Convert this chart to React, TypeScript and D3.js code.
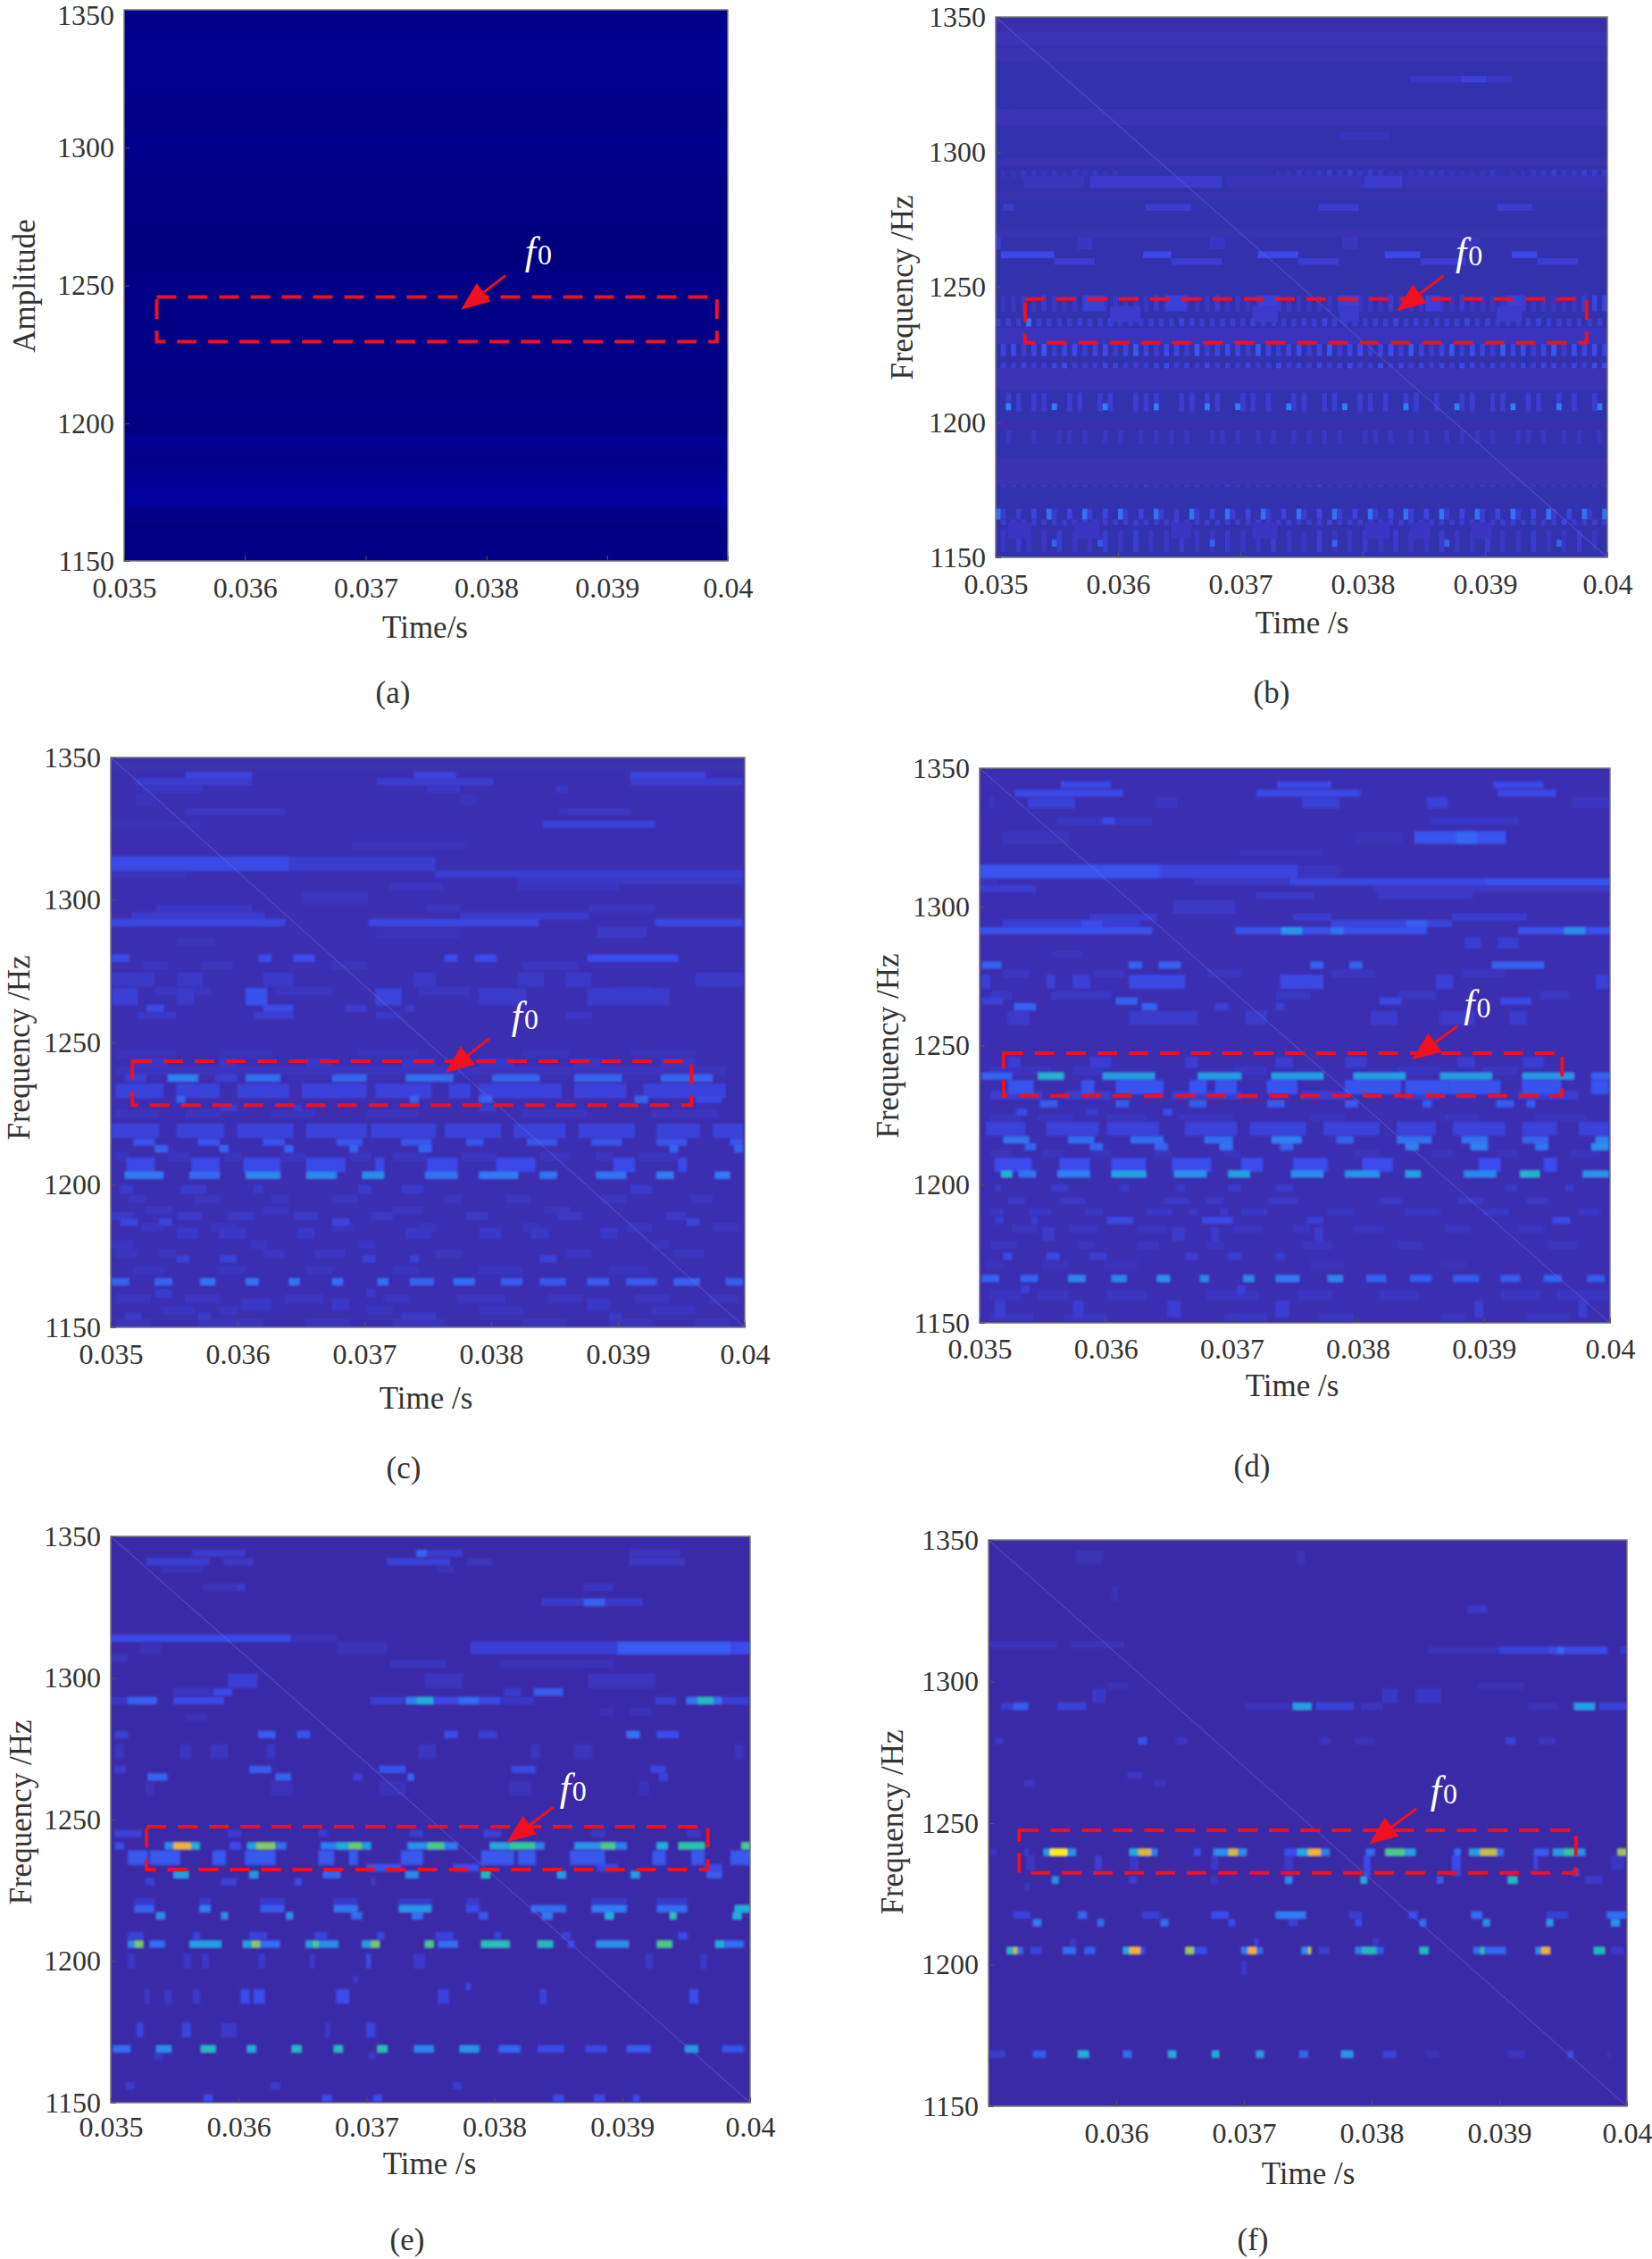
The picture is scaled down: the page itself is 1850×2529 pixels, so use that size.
import React, { useRef, useEffect } from 'react';
import * as d3 from 'd3';

// row: [freq Hz, height Hz, segments, value]
// with a value, segments are x0,x1 pairs; without one they are x0,x1,v triples
// segments are time bins, each list has its own bins at 0.035 and 0.04
type Row = [number, number, number[], number?];

const freqTicks = [1150, 1200, 1250, 1300, 1350];
const timeTicks = [0.035, 0.036, 0.037, 0.038, 0.039, 0.04];
const timeTicksNoFirst = [0.036, 0.037, 0.038, 0.039, 0.04];

// panel (a): one level per frequency band [high, low, level]
const aLevels = [
  [1350, 1342, 0.38], [1342, 1320, 0.45], [1320, 1315, 0.32], [1315, 1306, 0.26], [1306, 1298, 0.42],
  [1298, 1290, 0.3], [1290, 1283, 0.1], [1283, 1270, 0.15], [1270, 1257, 0.05], [1257, 1243, 0.2],
  [1243, 1225, 0.18], [1225, 1220, 0.25], [1220, 1213, 0.08], [1213, 1204, 0.18], [1204, 1196, 0.1],
  [1196, 1190, 0.5], [1190, 1183, 0.35], [1183, 1176, 0.55], [1176, 1170, 0.85], [1170, 1163, 0.3],
  [1163, 1155, 0.12], [1155, 1150, 0.28],
];

const bBins = [275, 1478];
const bRows: Row[] = [
  [1347, 5, [275, 1478], 0.015],
  [1342, 5, [275, 1478], 0.04],
  [1336, 5, [275, 1478], 0.03],
  [1327, 2.5, [1090, 1290], 0.08],
  [1327, 2.5, [1190, 1240], 0.14],
  [1313, 6, [275, 1478], 0.04],
  [1306, 3, [950, 1050], 0.06],
  [1296, 3, [280, 1478], 0.03],
  [1289, 4.5, [330, 450, 0.07, 460, 720, 0.11, 730, 1000, 0.06, 1000, 1075, 0.11, 1080, 1478, 0.06]],
  [1284, 3, [275, 1478], 0.03],
  [1279.5, 2.5, [290, 310, 570, 660, 910, 990, 1260, 1330], 0.11],
  [1270, 3, [280, 1478], 0.03],
  [1262, 2.5, [285, 390, 565, 620, 790, 870, 1040, 1110, 1290, 1340], 0.18],
  [1259.5, 2.5, [390, 470, 620, 720, 870, 950, 1110, 1200, 1340, 1420], 0.12],
  [1244, 6, [450, 490, 610, 650, 790, 830, 950, 990, 1120, 1150, 1280, 1310], 0.14],
  [1240, 6, [500, 560, 780, 830, 950, 990, 1260, 1310], 0.11],
  [1232, 6, [275, 1478], 0.07],
  [1216, 8, [275, 1478], 0.04],
  [1199, 3, [275, 1478], 0.02],
  [1186, 2, [275, 1478], 0.03],
  [1182, 6, [340, 380, 530, 560, 715, 750, 905, 945, 1095, 1125, 1290, 1310], 0.11],
  [1181, 8, [275, 1478], 0.03],
  [1160, 6, [300, 345, 430, 480, 620, 660, 780, 830, 1000, 1050, 1090, 1130, 1210, 1250], 0.08],
];

// panel (b) is fine stripes, one digit per column, digit 0-9 is the level x 0.04
const bStripes: [number, number, string][] = [
  [1344.5, 1339.5, '0000000000 0000002020 2020202000 0000000000 0000000000 0000020202 0202020202 0202000000 0000000000 0000000020 2020202020 2020202020'],
  [1316, 1310, '0203020202 0201020202 0202010202 0201020202 0202020102 0202020201 0202020202 0102020202 0201020202 0202010202 0202020102 0202020202'],
  [1293.5, 1290.5, '0101020201 0201020102 0101000000 0000000000 0000000000 0000010102 0102030203 0203020101 0102020201 0101010200 0101020203 0202030303'],
  [1270, 1264, '3000000000 0000002220 0000000000 0000000000 0022200000 0000000000 0000000022 2000000000 0000000000 0022200000 0000000000 0000000000'],
  [1247, 1241, '0202020203 0202020302 0202020202 0302020202 0203020202 0202030202 0202020203 0202020302 0202020202 0302020202 0203020202 0202030404'],
  [1238.5, 1235.5, '3030308030 3030303030 3040303030 3030304030 3030303030 4030303030 3030403030 3030303040 3030303030 3040303030 3030304030 3030303030'],
  [1234.5, 1231.5, '0303030303 0403030303 0303030403 0303030303 0403030303 0303030403 0303030303 0403030303 0303040303 0303030403 0303030303 0403030404'],
  [1231, 1224.5, '0405030406 0304050304 0503040604 0305040306 0304050403 0604030405 0304060304 0503040503 0604030406 0305040306 0405030406 0305040504'],
  [1222, 1212.5, '0303040303 0405030303 0404030303 0405030403 0403040304 0303050304 0304030405 0303050304 0304030403 0504030403 0304030404 0304030505'],
  [1211, 1204, '0030300303 0000303000 3030000303 0300003030 0303000030 3003000030 3000303000 0303003000 3030003000 0303000303 0000303000 3003000300'],
  [1207, 1204.5, '0090000000 0900000000 0900000000 0900000000 0900000900 0000000900 0000000090 0000000000 9000000000 9000000000 0900000000 9000000090'],
  [1197, 1192, '0020000200 0020200200 0200200020 0200200200 0020200200 0200200020 0200200200 0020200200 0200200020 0200200200 0020200200 0200200020'],
  [1183, 1176, '0202020202 0202020202 0202020203 0202020202 0202030202 0202020202 0203020202 0202020202 0202020202 0202020202 0202020202 0202020202'],
  [1168, 1164, '8300300400 8300400830 0400830040 0830030083 0040083004 0083004008 3004008300 4008300400 8300400830 0400830040 0830040083 0040083008'],
  [1164, 1162, '0303030303 0303030403 0303030303 0303040303 0303030303 0403030303 0303040303 0303030303 0403030303 0303040303 0303030303 0403030303'],
  [1160, 1152, '0200302002 0030020020 0300200300 2002003002 0020030020 0200300200 2003002002 0030020030 0200200300 2002003002 0020030020 0200300200'],
  [1156.5, 1154, '0000000000 0700000000 6000000000 0000000000 0070000000 0000000000 0000007000 0000000000 0000000070 0000000000 0000000000 7000000000'],
];

const cTopBins = [20, 1545];
const cTop: Row[] = [
  [1347, 3, [20, 1545], 0.03],
  [1343.7, 2.5, [200, 360, 750, 850, 1270, 1450], 0.16],
  [1341.5, 2.5, [80, 360, 660, 940, 1270, 1540], 0.12],
  [1339, 2.5, [100, 240, 780, 860, 1090, 1120], 0.1],
  [1335, 4, [80, 130, 860, 900], 0.06],
  [1331, 2.5, [200, 440, 1100, 1270], 0.08],
  [1326.5, 2.5, [20, 230], 0.05],
  [1326.5, 2.5, [1060, 1330], 0.15],
  [1319, 3, [600, 880], 0.05],
  [1312.7, 5, [20, 450], 0.18],
  [1312.7, 5, [450, 800], 0.12],
  [1309, 2.5, [20, 200], 0.07],
  [1309, 2.5, [800, 1540], 0.13],
  [1306.7, 2.5, [1000, 1540], 0.09],
  [1304.7, 2.5, [690, 820, 1000, 1240], 0.08],
  [1300.6, 4, [480, 640], 0.08],
  [1297, 2.5, [130, 360], 0.1],
  [1297, 2.5, [780, 860, 1170, 1330], 0.08],
  [1294.3, 2.5, [70, 390, 860, 1170], 0.12],
  [1292, 2.5, [20, 440, 640, 1050, 1330, 1540], 0.17],
  [1288.6, 4, [660, 860], 0.05],
  [1288.6, 4, [1190, 1310], 0.09],
  [1285, 2.5, [180, 270], 0.07],
];
const cBins = [48, 1514];
const cNoise: Row[] = [
  [1277, 3, [120, 180, 260, 330, 560, 640, 1000, 1130], 0.07],
  [1268, 3, [150, 280, 430, 560, 760, 880, 1200, 1300], 0.08],
  [1246, 3, [60, 200, 300, 420, 620, 760, 1000, 1110, 1250, 1400], 0.06],
  [1225, 3, [60, 160, 220, 300, 420, 520, 640, 760, 1000, 1150, 1300, 1450], 0.08],
  [1210, 3, [60, 90, 180, 230, 310, 350, 440, 500, 600, 650, 700, 780, 860, 940, 1040, 1110, 1170, 1210, 1270, 1360], 0.08],
  [1195, 3, [90, 130, 240, 300, 420, 460, 560, 620, 820, 860, 960, 1020, 1180, 1240, 1390, 1440], 0.08],
  [1189, 3, [50, 100, 200, 260, 320, 380, 470, 530, 650, 700, 870, 920, 1080, 1140, 1330, 1380], 0.09],
  [1185, 3, [120, 170, 280, 340, 560, 610, 760, 800, 1000, 1040, 1240, 1300, 1440, 1500], 0.08],
  [1176, 3, [60, 110, 160, 200, 400, 450, 520, 590, 800, 860, 1100, 1160, 1350, 1420], 0.08],
  [1170, 3, [100, 170, 300, 360, 500, 560, 700, 760, 900, 1000, 1200, 1290], 0.07],
  [1160, 3, [60, 140, 220, 300, 450, 540, 680, 740, 850, 960, 1060, 1140, 1260, 1340, 1430, 1500], 0.08],
  [1156, 3, [170, 240, 300, 340, 640, 700, 900, 1000, 1300, 1400], 0.08],
  [1151.5, 3, [60, 140, 250, 400, 500, 600, 700, 820, 1000, 1100, 1200, 1300, 1400, 1480], 0.07],
];
const cMid: Row[] = [
  [1279.6, 2.5, [50, 90, 390, 420, 470, 520, 820, 850, 890, 940, 1150, 1360], 0.2],
  [1272, 5, [50, 150, 200, 260, 400, 470, 750, 800, 990, 1050, 1100, 1160, 1400, 1510], 0.1],
  [1266, 6, [50, 110, 0.14, 200, 240, 0.11, 360, 410, 0.22, 660, 720, 0.16, 900, 1010, 0.11, 1150, 1340, 0.11]],
  [1262, 2.5, [130, 170, 0.18, 400, 470, 0.18, 590, 640, 0.11, 730, 750, 0.11]],
  [1259.5, 2.5, [110, 200, 0.09, 380, 470, 0.13, 660, 720, 0.09, 1100, 1160, 0.08]],
  [1243, 3, [100, 180, 300, 340, 500, 560, 720, 800, 900, 980, 1120, 1180, 1320, 1400], 0.1],
  [1240, 3, [60, 1470], 0.07],
  [1237.5, 2.5, [180, 250, 0.36, 360, 440, 0.3, 560, 640, 0.27, 730, 840, 0.3, 930, 1040, 0.27, 1120, 1230, 0.27, 1320, 1440, 0.27, 80, 130, 0.14, 290, 340, 0.14]],
  [1233, 5, [60, 170, 200, 300, 340, 460, 490, 640, 660, 790, 830, 880, 900, 1090, 1120, 1240, 1280, 1470], 0.15],
  [1230, 2.5, [200, 220, 740, 760, 900, 930, 1260, 1290], 0.27],
  [1230, 2.5, [1400, 1460], 0.18],
  [1227, 2.5, [300, 340, 470, 490, 900, 940], 0.12],
  [1219, 5, [50, 160, 200, 310, 340, 470, 500, 640, 650, 800, 820, 950, 980, 1100, 1130, 1260, 1310, 1410, 1440, 1510], 0.15],
  [1215, 2.5, [100, 150, 250, 300, 400, 450, 570, 630, 720, 790, 870, 910, 1010, 1080, 1160, 1230, 1310, 1380, 1480, 1510], 0.22],
  [1212.7, 2.5, [150, 180, 300, 320, 450, 470, 600, 620, 760, 790, 1340, 1360, 1490, 1510], 0.27],
  [1207, 5, [85, 150, 235, 300, 355, 440, 500, 590, 660, 680, 780, 850, 940, 1030, 1210, 1260, 1360, 1380], 0.19],
  [1203.4, 2.5, [80, 170, 0.34, 230, 300, 0.29, 360, 440, 0.38, 500, 570, 0.38, 630, 680, 0.4, 775, 850, 0.32, 900, 990, 0.34, 1040, 1080, 0.32, 1170, 1240, 0.32, 1310, 1350, 0.34, 1445, 1480, 0.34]],
  [1198.5, 3, [70, 100, 210, 270, 380, 400, 620, 650, 720, 770, 1250, 1300], 0.11],
  [1191, 3, [130, 190, 400, 460, 700, 770, 1050, 1110], 0.08],
  [1187, 2.5, [70, 110, 160, 190, 560, 600, 1380, 1410], 0.16],
  [1183, 4, [200, 250, 300, 360, 480, 520, 730, 790, 900, 950, 1020, 1060, 1180, 1220], 0.1],
  [1179, 3, [50, 100, 370, 410, 620, 660, 1300, 1340], 0.08],
  [1174, 2.5, [200, 230, 300, 340, 630, 660, 740, 760, 1040, 1080], 0.15],
  [1166, 2.5, [50, 90, 0.27, 150, 190, 0.27, 255, 290, 0.32, 360, 390, 0.32, 460, 485, 0.32, 560, 585, 0.3, 665, 690, 0.3, 740, 795, 0.27, 840, 890, 0.3, 950, 1000, 0.25, 1040, 1100, 0.23, 1150, 1200, 0.25, 1240, 1310, 0.25, 1350, 1410, 0.27, 1470, 1510, 0.25]],
  [1162, 3, [150, 190, 640, 660], 0.11],
  [1158, 4, [350, 420, 560, 600, 1150, 1200], 0.1],
  [1154, 2.5, [80, 120, 250, 280, 720, 800, 1200, 1230], 0.11],
];

const dTopBins = [15, 1530];
const dTop: Row[] = [
  [1344, 2.5, [210, 330, 730, 860, 1250, 1370], 0.18],
  [1341, 2.5, [100, 360, 680, 930, 1260, 1400], 0.18],
  [1337.5, 4, [40, 50, 440, 490, 1440, 1530], 0.08],
  [1337.5, 4, [130, 245, 790, 880, 1090, 1140], 0.14],
  [1331, 2.5, [200, 430, 0.09, 310, 340, 0.18, 1100, 1310, 0.1]],
  [1325, 4.5, [70, 230, 0.07, 920, 1030, 0.06, 1060, 1280, 0.22, 1160, 1210, 0.28]],
  [1319.5, 2.5, [640, 840], 0.06],
  [1312.7, 5, [15, 450], 0.22],
  [1312.7, 5, [450, 780], 0.16],
  [1312.7, 5, [780, 880], 0.07],
  [1309, 2.5, [15, 60, 0.07, 530, 760, 0.09, 760, 1230, 0.17, 1230, 1530, 0.22]],
  [1306.5, 2.5, [15, 150, 0.12, 960, 1530, 0.09]],
  [1304, 2.5, [680, 820, 0.1, 970, 1200, 0.09]],
  [1300, 5, [480, 630], 0.09],
  [1296.3, 2.5, [280, 440, 770, 860, 1150, 1330], 0.12],
  [1294, 2.5, [70, 400, 0.13, 260, 310, 0.2, 860, 1150, 0.16, 1040, 1090, 0.26]],
  [1291.4, 2.5, [15, 430, 0.22, 630, 1090, 0.22, 740, 790, 0.42, 860, 890, 0.32, 1310, 1530, 0.22, 1420, 1470, 0.4]],
  [1287, 4, [1180, 1220, 1260, 1310], 0.12],
  [1283, 2.5, [190, 260], 0.07],
];
const dBins = [35, 1493];
const dNoise: Row[] = [
  [1276, 3, [90, 150, 300, 370, 560, 640, 850, 950, 1150, 1250], 0.08],
  [1268, 3, [60, 110, 200, 340, 720, 800, 1000, 1090, 1330, 1400], 0.09],
  [1241, 3, [60, 200, 250, 320, 620, 700, 1000, 1100, 1200, 1280], 0.08],
  [1232, 3, [60, 180, 230, 340, 480, 640, 780, 880, 1020, 1100, 1280, 1420], 0.12],
  [1224, 2.5, [60, 130, 170, 250, 330, 420, 500, 620, 800, 880, 1110, 1190, 1320, 1440], 0.08],
  [1211, 2.5, [60, 110, 180, 230, 300, 340, 440, 480, 600, 640, 900, 960, 1080, 1130, 1230, 1280, 1400, 1470], 0.07],
  [1194, 2.5, [100, 140, 220, 280, 460, 520, 560, 600, 700, 770, 960, 1010, 1140, 1200, 1300, 1350], 0.09],
  [1190, 2.5, [60, 90, 150, 200, 280, 320, 420, 480, 640, 700, 840, 900, 1020, 1100, 1200, 1260, 1420, 1470], 0.1],
  [1184, 3, [110, 170, 240, 310, 400, 470, 620, 690, 760, 800, 900, 970, 1110, 1170, 1280, 1340], 0.08],
  [1178, 3, [60, 120, 260, 300, 400, 450, 560, 600, 780, 850, 1000, 1060, 1350, 1420], 0.07],
  [1171, 3, [50, 90, 180, 240, 320, 400, 800, 880, 1100, 1160], 0.06],
  [1160, 4, [60, 130, 170, 240, 330, 420, 560, 680, 770, 850, 960, 1050, 1240, 1330, 1370, 1490], 0.08],
  [1152, 3, [60, 160, 230, 330, 600, 700, 820, 900, 1100, 1160, 1300, 1400], 0.08],
];
const dMid: Row[] = [
  [1279, 2.5, [40, 85, 380, 410, 450, 500, 800, 830, 890, 920, 1220, 1340], 0.27],
  [1273, 5, [40, 60, 190, 210, 250, 290, 1090, 1130, 1460, 1490], 0.14],
  [1273, 5, [380, 510, 730, 830], 0.18],
  [1266, 2.5, [40, 90, 0.14, 350, 400, 0.27, 960, 1010, 0.18, 1240, 1310, 0.18]],
  [1264, 2.5, [115, 165, 410, 445], 0.27],
  [1264, 2.5, [580, 610, 720, 740], 0.14],
  [1260, 5, [100, 150, 380, 540, 650, 700, 940, 1000, 1100, 1180, 1260, 1300], 0.11],
  [1244, 4, [100, 130, 290, 340, 510, 540, 720, 760, 880, 930, 1140, 1180, 1290, 1340], 0.13],
  [1239, 2.5, [40, 110, 0.27, 170, 230, 0.52, 320, 440, 0.45, 540, 640, 0.45, 710, 830, 0.45, 900, 1020, 0.45, 1100, 1220, 0.45, 1290, 1410, 0.43, 1450, 1493, 0.27]],
  [1235, 5, [100, 160, 270, 300, 350, 460, 520, 560, 580, 630, 700, 770, 880, 1010, 1020, 1120, 1120, 1240, 1290, 1380, 1450, 1490], 0.22],
  [1229, 2.5, [175, 215, 350, 380, 520, 560, 700, 740, 880, 910, 1060, 1080, 1230, 1270, 1300, 1320], 0.25],
  [1226, 2.5, [120, 145, 0.18, 280, 310, 0.11, 460, 480, 0.18]],
  [1220, 5, [50, 140, 190, 310, 330, 450, 510, 630, 660, 790, 830, 960, 1000, 1090, 1130, 1250, 1290, 1370, 1420, 1490], 0.15],
  [1216, 2.5, [90, 150, 0.32, 240, 300, 0.3, 385, 460, 0.3, 555, 620, 0.3, 710, 780, 0.36, 860, 900, 0.27, 1000, 1080, 0.32, 1150, 1210, 0.32, 1290, 1350, 0.27, 1460, 1490, 0.36]],
  [1213.5, 2.5, [140, 165, 0.27, 290, 320, 0.27, 440, 470, 0.27, 590, 620, 0.32, 730, 760, 0.27, 1020, 1050, 0.36, 1170, 1210, 0.36, 1320, 1350, 0.32, 1450, 1490, 0.4]],
  [1207, 5, [70, 155, 220, 290, 340, 420, 480, 570, 640, 690, 760, 840, 920, 990, 1190, 1240, 1340, 1370], 0.2],
  [1203.7, 2.5, [85, 110, 0.52, 125, 165, 0.32, 215, 290, 0.36, 340, 420, 0.46, 485, 560, 0.41, 610, 660, 0.46, 755, 830, 0.39, 880, 960, 0.41, 1020, 1055, 0.46, 1155, 1230, 0.38, 1285, 1330, 0.52, 1430, 1490, 0.41]],
  [1198.6, 2.5, [70, 85, 200, 240, 360, 380, 490, 510, 610, 640, 720, 760, 1250, 1280, 1390, 1410], 0.11],
  [1190, 2.5, [520, 540, 590, 610, 840, 860], 0.1],
  [1187, 2.5, [70, 90, 155, 170, 790, 830], 0.13],
  [1187, 2.5, [330, 390, 550, 620, 1360, 1400], 0.18],
  [1182, 5, [180, 210, 480, 510, 570, 590, 810, 830], 0.11],
  [1174, 2.5, [90, 110, 190, 220], 0.18],
  [1174, 2.5, [290, 330, 510, 540, 610, 640, 720, 740], 0.13],
  [1166, 2.5, [40, 80, 0.27, 130, 170, 0.27, 240, 280, 0.38, 340, 375, 0.38, 445, 475, 0.41, 545, 565, 0.38, 645, 670, 0.38, 720, 775, 0.34, 840, 875, 0.38, 930, 975, 0.27, 1030, 1080, 0.25, 1130, 1190, 0.25, 1240, 1285, 0.25, 1340, 1380, 0.27, 1440, 1480, 0.25]],
  [1162, 3, [130, 150, 630, 650], 0.14],
  [1155, 6, [70, 95, 250, 275, 470, 500, 720, 750, 1180, 1200, 1420, 1440], 0.13],
];

const eTopBins = [20, 1547];
const eTop: Row[] = [
  [1344, 2.5, [215, 340, 0.11, 750, 775, 0.27, 775, 860, 0.11, 1260, 1380, 0.07]],
  [1341, 2.5, [105, 255, 0.13, 290, 360, 0.09, 680, 830, 0.14, 870, 930, 0.07, 1260, 1390, 0.09]],
  [1338.5, 2.5, [140, 240, 800, 840], 0.05],
  [1332, 2.5, [240, 320, 0.05, 320, 340, 0.11, 1150, 1220, 0.07]],
  [1326.7, 2.5, [1050, 1290, 0.11, 1150, 1200, 0.27]],
  [1314, 2.5, [20, 450, 0.18, 450, 560, 0.05]],
  [1310.6, 4.5, [90, 140, 0.05, 560, 680, 0.05, 880, 1230, 0.13, 1230, 1500, 0.25, 1500, 1547, 0.18]],
  [1307, 2.5, [20, 60], 0.07],
  [1305, 2.5, [690, 820, 0.07, 950, 1220, 0.06]],
  [1299, 5, [300, 370, 0.13, 770, 860, 0.07, 1160, 1320, 0.07]],
  [1295, 2.5, [170, 260, 0.07, 265, 310, 0.18, 960, 1000, 0.11, 1030, 1100, 0.25]],
  [1292, 2.5, [20, 60, 0.09, 60, 130, 0.27, 170, 290, 0.18, 640, 720, 0.13, 725, 750, 0.36, 750, 790, 0.5, 790, 850, 0.18, 850, 900, 0.3, 900, 950, 0.18, 950, 1030, 0.09, 1320, 1370, 0.13, 1395, 1420, 0.32, 1420, 1460, 0.55, 1460, 1480, 0.32, 1480, 1547, 0.13]],
  [1288, 2.5, [1190, 1220, 1260, 1310], 0.06],
  [1286, 2.5, [200, 250], 0.05],
];
const eBins = [30, 1505];
const eMid: Row[] = [
  [1280, 2.5, [40, 70, 0.14, 370, 410, 0.25, 460, 490, 0.22, 800, 830, 0.2, 880, 920, 0.14, 1220, 1250, 0.32, 1290, 1340, 0.2]],
  [1274, 5, [40, 60, 190, 215, 260, 300, 390, 410, 740, 780, 1000, 1020, 1100, 1140, 1470, 1490], 0.07],
  [1267.7, 2.5, [40, 65, 0.11, 350, 400, 0.25, 650, 710, 0.22, 955, 1010, 0.18, 1275, 1310, 0.16]],
  [1265, 2.5, [115, 160, 0.27, 410, 445, 0.27, 590, 610, 0.14, 715, 730, 0.27, 1295, 1315, 0.14]],
  [1261, 5, [110, 130, 400, 450, 650, 710, 950, 1000, 1250, 1270], 0.06],
  [1245, 2.5, [40, 100, 0.14, 300, 330, 0.11, 510, 530, 0.11, 720, 750, 0.11, 890, 930, 0.14, 1140, 1170, 0.09, 1360, 1390, 0.09]],
  [1240.7, 2.5, [40, 60, 0.2, 155, 175, 0.4, 175, 215, 0.85, 215, 235, 0.5, 305, 330, 0.2, 345, 365, 0.45, 365, 410, 0.72, 410, 435, 0.3, 515, 550, 0.35, 550, 580, 0.5, 580, 610, 0.68, 610, 630, 0.45, 715, 760, 0.4, 760, 800, 0.65, 800, 830, 0.35, 905, 950, 0.48, 950, 1010, 0.62, 1010, 1030, 0.35, 1100, 1160, 0.42, 1160, 1195, 0.65, 1195, 1220, 0.35, 1290, 1315, 0.5, 1340, 1400, 0.6, 1485, 1505, 0.65]],
  [1236.5, 5, [70, 115, 120, 190, 265, 295, 340, 410, 510, 545, 580, 600, 700, 750, 885, 960, 970, 1010, 1090, 1130, 1130, 1170, 1280, 1310, 1370, 1400, 1460, 1505], 0.24],
  [1233, 2.5, [620, 700, 0.22, 820, 880, 0.2, 1150, 1200, 0.16, 1400, 1440, 0.18]],
  [1230.5, 2.5, [175, 210, 0.45, 350, 370, 0.42, 520, 560, 0.28, 710, 740, 0.38, 885, 905, 0.55, 1060, 1080, 0.45, 1230, 1250, 0.45, 1405, 1440, 0.25]],
  [1228, 2.5, [110, 130, 0.14, 285, 320, 0.14, 455, 470, 0.18, 630, 640, 0.11]],
  [1221, 2.5, [85, 130, 235, 260, 375, 430, 545, 600, 695, 770, 850, 880, 1140, 1220, 1290, 1360], 0.1],
  [1218.5, 2.5, [85, 130, 0.28, 235, 260, 0.35, 375, 430, 0.25, 545, 600, 0.33, 695, 770, 0.42, 850, 880, 0.2, 1000, 1080, 0.3, 1140, 1220, 0.35, 1290, 1360, 0.3, 1470, 1505, 0.5]],
  [1216, 2.5, [135, 155, 0.4, 285, 300, 0.4, 435, 450, 0.42, 585, 610, 0.3, 725, 750, 0.32, 880, 900, 0.25, 1025, 1050, 0.33, 1170, 1190, 0.5, 1320, 1335, 0.6, 1465, 1485, 0.5]],
  [1208.9, 2.5, [70, 105, 220, 235, 350, 390, 500, 530, 780, 820, 915, 930, 1070, 1090], 0.15],
  [1208.9, 2.5, [645, 660, 1340, 1360], 0.2],
  [1206, 2.5, [70, 85, 0.4, 85, 105, 0.7, 120, 155, 0.3, 212, 285, 0.45, 335, 355, 0.45, 355, 375, 0.72, 375, 420, 0.3, 480, 495, 0.45, 495, 510, 0.65, 510, 555, 0.4, 610, 630, 0.45, 630, 650, 0.7, 755, 775, 0.65, 785, 830, 0.3, 885, 950, 0.58, 1015, 1050, 0.55, 1085, 1100, 0.2, 1150, 1225, 0.4, 1290, 1325, 0.65, 1425, 1445, 0.5, 1445, 1490, 0.3]],
  [1200, 5, [70, 85, 200, 215, 240, 255, 370, 385, 490, 500, 730, 755, 1265, 1280, 1390, 1405], 0.1],
  [1200, 5, [620, 630], 0.2],
  [1191, 2.5, [850, 860], 0.18],
  [1193.5, 2.5, [590, 600], 0.1],
  [1187.5, 5, [110, 120, 155, 170, 220, 235], 0.1],
  [1187.5, 5, [330, 350, 360, 385, 550, 580, 1365, 1385], 0.2],
  [1187.5, 5, [785, 810, 1020, 1035], 0.15],
  [1175.6, 5, [90, 105, 195, 215, 620, 640], 0.16],
  [1175.6, 5, [285, 320, 525, 535], 0.1],
  [1169, 2.5, [35, 75, 0.3, 135, 170, 0.4, 238, 272, 0.55, 345, 365, 0.5, 448, 470, 0.55, 545, 565, 0.55, 645, 668, 0.58, 730, 775, 0.38, 835, 880, 0.42, 925, 975, 0.28, 1015, 1075, 0.2, 1125, 1175, 0.18, 1220, 1275, 0.25, 1355, 1385, 0.45, 1440, 1490, 0.22]],
  [1166.5, 2.5, [130, 150, 625, 640], 0.1],
  [1156, 2.5, [65, 85, 400, 420, 820, 840], 0.12],
  [1151.5, 2.5, [245, 265, 518, 540, 636, 655, 1051, 1075, 1146, 1170, 1235, 1250], 0.2],
];

const fTopBins = [15, 1547];
const fTop: Row[] = [
  [1344, 5, [225, 290, 755, 775], 0.04],
  [1331, 5, [310, 325], 0.04],
  [1325.6, 2.5, [1165, 1210], 0.1],
  [1313, 2.5, [15, 180, 0.06, 210, 340, 0.05]],
  [1311, 2.5, [1070, 1240, 0.05, 1240, 1360, 0.15, 1360, 1500, 0.2, 1380, 1395, 0.28, 1530, 1547, 0.1]],
  [1298.5, 2.5, [300, 350, 1190, 1300], 0.04],
  [1295, 5, [265, 295, 960, 995, 1040, 1100], 0.1],
  [1291.2, 2.5, [45, 75, 0.12, 75, 110, 0.25, 180, 250, 0.15, 630, 740, 0.06, 745, 790, 0.45, 800, 890, 0.15, 910, 960, 0.07, 1310, 1380, 0.05, 1420, 1470, 0.45, 1480, 1547, 0.15]],
  [1279, 2.5, [30, 50, 0.08, 375, 395, 0.22, 465, 490, 0.08, 810, 835, 0.07, 895, 940, 0.06, 1255, 1280, 0.14, 1335, 1375, 0.07]],
];
const fBins = [32, 1517];
const fMid: Row[] = [
  [1266.8, 2.5, [355, 390], 0.08],
  [1264, 2.5, [115, 140, 0.08, 415, 445, 0.05]],
  [1239.7, 2.5, [35, 50, 0.08, 115, 125, 0.1, 160, 175, 0.45, 175, 215, 1, 215, 235, 0.42, 360, 380, 0.5, 380, 410, 0.82, 410, 425, 0.35, 510, 525, 0.2, 555, 590, 0.4, 590, 612, 0.82, 612, 632, 0.4, 720, 750, 0.2, 750, 775, 0.5, 775, 805, 0.85, 805, 825, 0.35, 910, 930, 0.3, 955, 1000, 0.65, 1000, 1025, 0.45, 1115, 1130, 0.3, 1150, 1175, 0.45, 1175, 1215, 0.8, 1215, 1230, 0.3, 1300, 1335, 0.25, 1345, 1370, 0.45, 1370, 1395, 0.62, 1395, 1420, 0.4, 1495, 1515, 0.75]],
  [1236, 5, [120, 140, 0.08, 280, 295, 0.14, 360, 380, 0.1, 550, 565, 0.1, 720, 740, 0.1, 905, 920, 0.2, 1110, 1130, 0.2, 1300, 1310, 0.16, 1480, 1510, 0.08]],
  [1232.5, 2.5, [905, 920, 0.18, 1110, 1130, 0.16, 1390, 1405, 0.2]],
  [1229.9, 2.5, [180, 195, 0.42, 360, 375, 0.15, 550, 565, 0.1, 722, 738, 0.4, 898, 912, 0.5, 1075, 1090, 0.25, 1240, 1262, 0.55, 1420, 1460, 0.1]],
  [1227.5, 2.5, [115, 130], 0.08],
  [1217.5, 2.5, [90, 130, 0.15, 240, 260, 0.28, 390, 430, 0.14, 550, 590, 0.2, 700, 770, 0.35, 870, 900, 0.12, 1010, 1030, 0.2, 1155, 1180, 0.3, 1330, 1380, 0.14, 1470, 1515, 0.3]],
  [1214.8, 2.5, [135, 155, 0.35, 285, 300, 0.3, 432, 450, 0.3, 590, 605, 0.2, 730, 750, 0.15, 885, 900, 0.2, 1035, 1050, 0.3, 1182, 1198, 0.4, 1330, 1345, 0.45, 1480, 1500, 0.42]],
  [1207.8, 2.5, [222, 235, 0.1, 650, 660, 0.15, 925, 940, 0.1]],
  [1205, 2.5, [75, 90, 0.55, 90, 100, 0.8, 100, 112, 0.3, 130, 155, 0.15, 205, 235, 0.3, 255, 280, 0.25, 345, 360, 0.5, 360, 385, 0.85, 385, 395, 0.2, 490, 510, 0.75, 510, 540, 0.2, 620, 635, 0.35, 635, 655, 0.85, 655, 670, 0.3, 760, 775, 0.4, 775, 782, 0.8, 800, 825, 0.12, 885, 900, 0.35, 900, 935, 0.55, 935, 950, 0.25, 1035, 1055, 0.55, 1160, 1175, 0.3, 1175, 1185, 0.6, 1185, 1235, 0.28, 1305, 1318, 0.4, 1318, 1338, 0.85, 1440, 1465, 0.55, 1480, 1510, 0.1]],
  [1199, 5, [620, 632], 0.1],
  [1168.4, 2.5, [35, 70, 0.12, 135, 165, 0.25, 240, 265, 0.5, 345, 365, 0.3, 450, 468, 0.5, 552, 568, 0.5, 655, 672, 0.45, 755, 775, 0.28, 852, 880, 0.42, 950, 980, 0.15, 1050, 1080, 0.04, 1240, 1280, 0.07, 1380, 1392, 0.2, 1470, 1480, 0.04]],
];

// annotations in data units: box [t0, t1, fHigh, fLow], arrow [tip t, tip f, tail t, tail f], label [t, f]
const aBox = [0.03527, 0.03991, 1245.8, 1229.6];
const bBox = [0.03524, 0.03983, 1245.6, 1229.4];
const cBox = [0.03517, 0.03958, 1243.4, 1228];
const dBox = [0.03519, 0.03962, 1247.3, 1231.8];
const eBox = [0.03528, 0.03967, 1247.5, 1232.3];
const fBox = [0.03524, 0.0396, 1247.5, 1232.4];
const aArrow = [0.03779, 1241.2, 0.03816, 1253.6];
const bArrow = [0.03828, 1241.2, 0.03866, 1254.2];
const cArrow = [0.03764, 1239.3, 0.03799, 1251.5];
const dArrow = [0.03843, 1244.9, 0.03879, 1257];
const eArrow = [0.0381, 1242, 0.03846, 1254.3];
const fArrow = [0.03798, 1242.6, 0.03835, 1255.1];
const aLabel = [0.03832, 1257.7];
const bLabel = [0.03876, 1258];
const cLabel = [0.03816, 1254.6];
const dLabel = [0.03884, 1260];
const eLabel = [0.03851, 1256.5];
const fLabel = [0.03846, 1256.9];

const heatColor = d3
  .scaleLinear<string>()
  .domain([0, 0.1, 0.2, 0.35, 0.5, 0.6, 0.72, 0.85, 1])
  .range(['#3b2ca6', '#3a38c8', '#3b4cec', '#2f7df5', '#1fb0dc', '#26c6a8', '#86cc58', '#f2b52c', '#fff200'])
  .clamp(true);

const navyColor = d3.scaleLinear<string>().domain([0, 1]).range(['#00007c', '#0000a8']);

const panels = [
  { name: '(a)', box: [139, 11, 815, 628], bg: '#00007c', yLabel: 'Amplitude', xLabel: 'Time/s', ticks: timeTicks, tickPad: 18, yLabelAt: [28, 320], xLabelAt: [476, 703], capAt: [440, 776], layers: [], stripes: [], ann: [aBox, aArrow, aLabel], diagonal: false, blur: 0.8 },
  { name: '(b)', box: [1115, 19, 1800, 624], bg: '#3330ac', yLabel: 'Frequency /Hz', xLabel: 'Time /s', ticks: timeTicks, tickPad: 18, yLabelAt: [1011, 322], xLabelAt: [1458, 698], capAt: [1424, 776], layers: [[bBins, bRows]], stripes: bStripes, ann: [bBox, bArrow, bLabel], diagonal: true, blur: 0.6 },
  { name: '(c)', box: [124, 848, 834, 1486], bg: '#3a2eb0', yLabel: 'Frequency /Hz', xLabel: 'Time /s', ticks: timeTicks, tickPad: 18, yLabelAt: [22, 1173], xLabelAt: [477, 1566], capAt: [452, 1644], layers: [[cBins, cNoise], [cTopBins, cTop], [cBins, cMid]], stripes: [], ann: [cBox, cArrow, cLabel], diagonal: true, blur: 1.2 },
  { name: '(d)', box: [1097, 860, 1803, 1481], bg: '#3a2db0', yLabel: 'Frequency /Hz', xLabel: 'Time /s', ticks: timeTicks, tickPad: 17, yLabelAt: [995, 1171], xLabelAt: [1447, 1552], capAt: [1402, 1642], layers: [[dBins, dNoise], [dTopBins, dTop], [dBins, dMid]], stripes: [], ann: [dBox, dArrow, dLabel], diagonal: true, blur: 1.2 },
  { name: '(e)', box: [124, 1720, 840, 2354], bg: '#3b2ca8', yLabel: 'Frequency /Hz', xLabel: 'Time /s', ticks: timeTicks, tickPad: 15, yLabelAt: [24, 2029], xLabelAt: [481, 2423], capAt: [456, 2508], layers: [[eTopBins, eTop], [eBins, eMid]], stripes: [], ann: [eBox, eArrow, eLabel], diagonal: true, blur: 1 },
  { name: '(f)', box: [1107, 1724, 1822, 2358], bg: '#3b2aa6', yLabel: 'Frequency /Hz', xLabel: 'Time /s', ticks: timeTicksNoFirst, tickPad: 18, yLabelAt: [1000, 2040], xLabelAt: [1465, 2434], capAt: [1403, 2508], layers: [[fTopBins, fTop], [fBins, fMid]], stripes: [], ann: [fBox, fArrow, fLabel], diagonal: true, blur: 1 },
];

const FONT = '"Liberation Serif", serif';

const App = () => {
  const svgRef = useRef<SVGSVGElement | null>(null);

  useEffect(() => {
    const svg = d3.select(svgRef.current);
    svg.selectAll('*').remove();
    svg.style('font-family', FONT);
    const defs = svg.append('defs');

    panels.forEach((p, idx) => {
      const [left, top, right, bottom] = p.box;
      const x = d3.scaleLinear().domain([0.035, 0.04]).range([left, right]);
      const y = d3.scaleLinear().domain([1150, 1350]).range([bottom, top]);
      const g = svg.append('g');

      defs.append('clipPath').attr('id', `plot${idx}`)
        .append('rect').attr('x', left).attr('y', top).attr('width', right - left).attr('height', bottom - top);
      defs.append('filter').attr('id', `soft${idx}`)
        .attr('filterUnits', 'userSpaceOnUse')
        .attr('x', left - 10).attr('y', top - 10).attr('width', right - left + 20).attr('height', bottom - top + 20)
        .append('feGaussianBlur').attr('stdDeviation', p.blur);

      const heat = g.append('g').attr('clip-path', `url(#plot${idx})`).append('g').attr('filter', `url(#soft${idx})`);

      heat.append('rect').attr('x', left - 10).attr('y', top - 10).attr('width', right - left + 20).attr('height', bottom - top + 20).attr('fill', p.bg);

      if (idx === 0) {
        heat.append('g').selectAll('rect')
          .data(aLevels)
          .join('rect')
          .attr('x', left - 10)
          .attr('width', right - left + 20)
          .attr('y', (d) => y(d[0]))
          .attr('height', (d) => y(d[1]) - y(d[0]))
          .attr('fill', (d) => navyColor(d[2]));
      }

      // stripes first so the brighter rows sit over them
      (p.stripes as [number, number, string][]).forEach(([fHi, fLo, pattern]) => {
        const digits = pattern.replace(/ /g, '').split('').map(Number);
        const col = d3.scaleBand<number>().domain(d3.range(digits.length)).range([left, right]);
        heat.append('g')
          .selectAll('rect')
          .data(digits.map((v, i) => ({ v, i })).filter((d) => d.v > 0))
          .join('rect')
          .attr('x', (d) => col(d.i) as number)
          .attr('width', col.bandwidth())
          .attr('y', y(fHi))
          .attr('height', y(fLo) - y(fHi))
          .attr('fill', (d) => heatColor(d.v * 0.04));
      });

      (p.layers as [number[], Row[]][]).forEach(([bins, rows]) => {
        const bx = d3.scaleLinear().domain(bins).range([left, right]).clamp(true);
        const cells = rows.flatMap(([f, h, segs, v]) => {
          const out: { f: number; h: number; x0: number; x1: number; v: number }[] = [];
          const step = v === undefined ? 3 : 2;
          for (let i = 0; i < segs.length; i += step) {
            out.push({ f, h, x0: segs[i], x1: segs[i + 1], v: v === undefined ? segs[i + 2] : v });
          }
          return out;
        });
        heat.append('g')
          .selectAll('rect')
          .data(cells)
          .join('rect')
          .attr('x', (d) => bx(d.x0))
          .attr('width', (d) => bx(d.x1) - bx(d.x0))
          .attr('y', (d) => y(d.f + d.h / 2))
          .attr('height', (d) => y(d.f - d.h / 2) - y(d.f + d.h / 2))
          .attr('fill', (d) => heatColor(d.v));
      });

      if (p.diagonal) {
        g.append('line')
          .attr('x1', x(0.035))
          .attr('y1', y(1350))
          .attr('x2', x(0.04))
          .attr('y2', y(1150))
          .attr('stroke', '#6a6ae0')
          .attr('stroke-opacity', 0.45)
          .attr('stroke-width', 1.2);
      }

      g.append('rect')
        .attr('x', left)
        .attr('y', top)
        .attr('width', right - left)
        .attr('height', bottom - top)
        .attr('fill', 'none')
        .attr('stroke', '#77777f')
        .attr('stroke-width', 1.5);

      const xAxis = d3
        .axisBottom(x)
        .tickValues(p.ticks)
        .tickFormat((d) => String(+d))
        .tickSize(-6)
        .tickPadding(p.tickPad);
      const yAxis = d3
        .axisLeft(y)
        .tickValues(freqTicks)
        .tickFormat((d) => String(d))
        .tickSize(-6)
        .tickPadding(11);
      const styleAxis = (a: d3.Selection<SVGGElement, unknown, null, undefined>) => {
        a.select('.domain').remove();
        a.selectAll('line').attr('stroke', '#555');
        a.selectAll('text').attr('fill', '#333').style('font-size', '32px').style('font-family', FONT);
      };
      const yG = g.append('g').attr('transform', `translate(${left},0)`).call(yAxis).call(styleAxis);
      g.append('g').attr('transform', `translate(0,${bottom})`).call(xAxis).call(styleAxis);
      // top label of (a) would run off the page at the tick's own height
      if (idx === 0) yG.selectAll('.tick').filter((d) => d === 1350).select('text').attr('dy', '0.5em');

      const label = (txt: string, at: number[], rotate = false) => {
        g.append('text')
          .attr('transform', `translate(${at[0]},${at[1]})${rotate ? ' rotate(-90)' : ''}`)
          .attr('text-anchor', 'middle')
          .attr('dy', '0.32em')
          .attr('fill', '#333')
          .style('font-size', '35px')
          .text(txt);
      };
      label(p.xLabel, p.xLabelAt);
      label(p.yLabel, p.yLabelAt, true);
      label(p.name, p.capAt);

      // red dashed box, arrow and f0 note
      const [boxT, arrowT, labelT] = p.ann;
      g.append('rect')
        .attr('x', x(boxT[0]))
        .attr('y', y(boxT[2]))
        .attr('width', x(boxT[1]) - x(boxT[0]))
        .attr('height', y(boxT[3]) - y(boxT[2]))
        .attr('fill', 'none')
        .attr('stroke', '#f01020')
        .attr('stroke-width', 4)
        .attr('stroke-dasharray', '22 13');

      const tip = [x(arrowT[0]), y(arrowT[1])];
      const tail = [x(arrowT[2]), y(arrowT[3])];
      const ang = Math.atan2(tail[1] - tip[1], tail[0] - tip[0]);
      const headLen = 32;
      const headW = 13;
      const base = [tip[0] + headLen * Math.cos(ang), tip[1] + headLen * Math.sin(ang)];
      g.append('line')
        .attr('x1', base[0])
        .attr('y1', base[1])
        .attr('x2', tail[0])
        .attr('y2', tail[1])
        .attr('stroke', '#f01020')
        .attr('stroke-width', 3);
      g.append('path')
        .attr('d', d3.line()([
          [tip[0], tip[1]],
          [base[0] - headW * Math.sin(ang), base[1] + headW * Math.cos(ang)],
          [base[0] + headW * Math.sin(ang), base[1] - headW * Math.cos(ang)],
        ]) + 'Z')
        .attr('fill', '#f01020');

      const note = g
        .append('text')
        .attr('x', x(labelT[0]))
        .attr('y', y(labelT[1]))
        .attr('fill', '#fff');
      note.append('tspan').style('font-style', 'italic').style('font-size', '44px').text('f');
      note.append('tspan').attr('dx', 2).style('font-size', '32px').text('0');
    });
  }, []);

  return <svg ref={svgRef} width={1850} height={2529} style={{ position: 'absolute', left: 0, top: 0, display: 'block', background: '#fff' }}></svg>;
};

export default App;
